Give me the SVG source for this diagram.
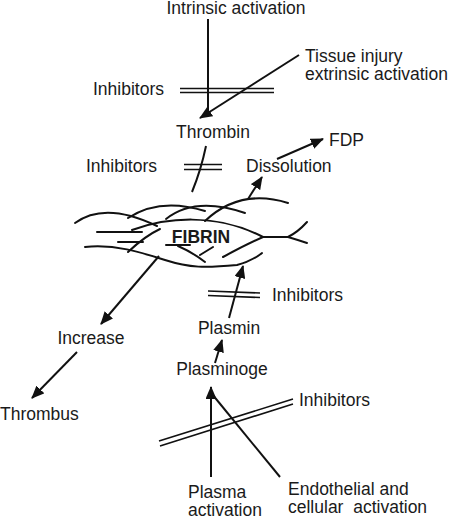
<svg xmlns="http://www.w3.org/2000/svg" width="450" height="519" viewBox="0 0 450 519">
<style>
text{font-family:"Liberation Sans",Arial,sans-serif;font-size:17.5px;fill:#1a1a1a}
.b{font-weight:bold}
.ln{fill:none;stroke:#111;stroke-width:2}
.bar{fill:none;stroke:#111;stroke-width:1.6}
.st{fill:none;stroke:#111;stroke-width:2;stroke-linecap:round}
.ar{marker-end:url(#ah)}
</style>
<defs>
<marker id="ah" markerUnits="userSpaceOnUse" markerWidth="13" markerHeight="11" refX="12" refY="5.5" orient="auto">
<path d="M0,0 L13,5.5 L0,11 z" fill="#111"/>
</marker>
</defs>
<rect width="450" height="519" fill="#fff"/>

<g id="intrinsic"><text x="236" y="13.5" text-anchor="middle">Intrinsic activation</text></g>
<g id="tissue"><text x="305" y="62">Tissue injury</text><text x="305" y="80">extrinsic activation</text></g>
<g id="inhibitors1"><text x="93" y="95">Inhibitors</text>
<path class="bar" d="M180,88.5 H274 M180,92.5 H274"/></g>
<g id="thrombin"><text x="213" y="138" text-anchor="middle">Thrombin</text></g>
<g id="inhibitors2"><text x="86" y="172">Inhibitors</text>
<path class="bar" d="M184,164.5 H222 M184,169.5 H222"/></g>
<g id="dissolution"><text x="246" y="172">Dissolution</text></g>
<g id="fdp"><text x="329" y="146">FDP</text></g>

<g id="fibrin">
<path class="st" d="M75,223 Q105,201 157,226"/>
<path class="st" d="M128,218 Q160,197 205,211"/>
<path class="st" d="M166,219 Q195,196 245,213"/>
<path class="st" d="M205,221 Q240,188 288,203"/>
<path class="st" d="M132,230 C165,218 215,212 263,237 L288,237 Q298,232 307,222"/>
<path class="st" d="M288,237 Q298,240 307,243"/>
<path class="st" d="M223,257 Q245,245 263,237"/>
<path class="st" d="M97,232 H142 M118,242 H143 M166,245 H190"/>
<path class="st" d="M128,252 Q145,236 160,229"/>
<path class="st" d="M85,247 C115,244 140,252 165,260 S205,268 237,265 Q252,261 262,253"/>
<path class="st" d="M178,246 Q192,252 205,262"/>
<path class="st" d="M200,255 L213,247"/>
<text class="b" x="201" y="243" text-anchor="middle">FIBRIN</text>
</g>

<g id="increase"><text x="91" y="344" text-anchor="middle">Increase</text></g>
<g id="thrombus"><text x="0" y="420">Thrombus</text></g>
<g id="inhibitors3"><text x="272" y="301">Inhibitors</text>
<path class="bar" d="M208,291 L260,293 M208,295.5 L260,297.5"/></g>
<g id="plasmin"><text x="229" y="334" text-anchor="middle">Plasmin</text></g>
<g id="plasminoge"><text x="222" y="375" text-anchor="middle">Plasminoge</text></g>
<g id="inhibitors4"><text x="299" y="406">Inhibitors</text>
<path class="bar" d="M159,441 L293,399 M160,446 L293,404"/></g>
<g id="plasma"><text x="188" y="498">Plasma</text><text x="188" y="516">activation</text></g>
<g id="endothelial"><text x="288" y="495">Endothelial and</text><text x="288" y="513" xml:space="preserve">cellular  activation</text></g>

<g id="connectors">
<path class="ln" d="M208,19 V113"/>
<path class="ln ar" d="M299,55 L200,118"/>
<path class="ln" d="M206,146 Q201,170 192,192"/>
<path class="ln ar" d="M248,199 L262,177"/>
<path class="ln ar" d="M277,159 L323,139"/>
<path class="ln ar" d="M159,256 L101,324"/>
<path class="ln ar" d="M77,352 L32,398"/>
<path class="ln ar" d="M229,318 L243,266"/>
<path class="ln ar" d="M215,363 L222,340"/>
<path class="ln ar" d="M211,477 V387"/>
<path class="ln" d="M280,477 L212,394"/>
</g>
</svg>
